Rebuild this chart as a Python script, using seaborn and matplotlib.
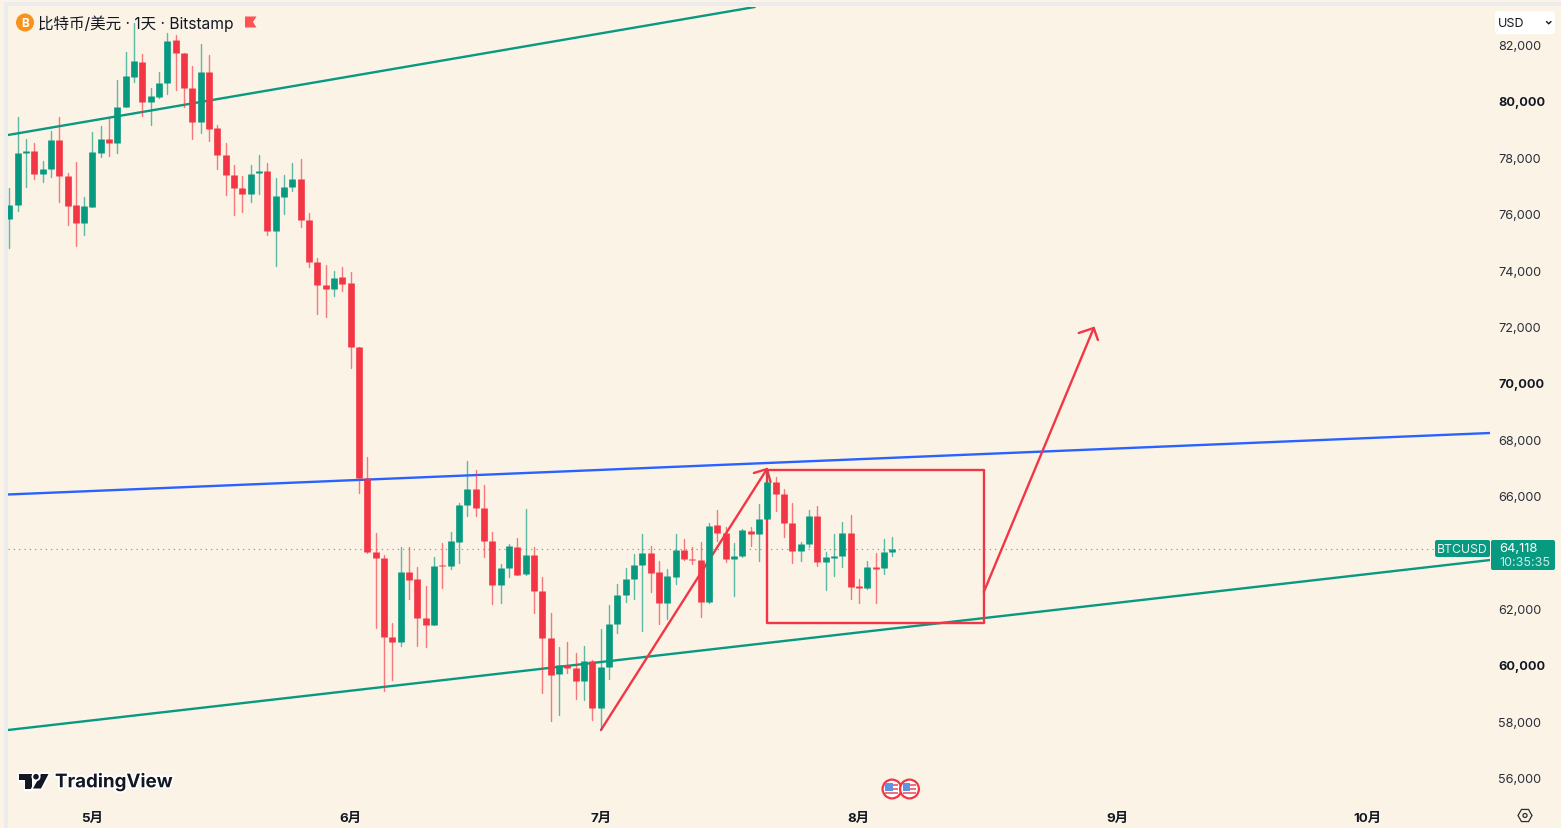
import numpy as np
import pandas as pd
import seaborn as sns
import matplotlib.pyplot as plt
import matplotlib.patheffects as pe
from matplotlib.patches import Circle, FancyBboxPatch, Polygon, Rectangle, RegularPolygon
from matplotlib.ticker import FuncFormatter

opens = [75809, 76294, 78162, 78233, 77405, 77583, 78623, 77334, 76294, 75679,
         76246, 78162, 78647, 78505, 79794, 80846, 81379, 79948, 80149, 80622,
         82159, 81698, 80444, 79238, 81024, 79025, 78068, 77370, 76897, 76708,
         77429, 77524, 75395, 76601, 76932, 77216, 75785, 74284, 73469, 73327,
         73741, 73528, 71270, 66634, 63985, 63773, 60994, 60805, 63276, 63028,
         61644, 61396, 63536, 63489, 64364, 65665, 66232, 65558, 64399, 62838,
         63441, 64186, 63205, 63903, 62614, 60946, 59669, 59977, 59894, 59421,
         60119, 58475, 59918, 61431, 62473, 63041, 63549, 63963, 63277, 62201,
         63123, 64081, 63750, 63703, 62213, 64968, 64684, 63738, 63845, 64755,
         64637, 65157, 66482, 66044, 65015, 64046, 64270, 65287, 63644, 63797,
         63857, 64673, 62781, 62710, 63466, 63419, 64010]
highs = [76897, 79439, 78635, 78493, 77867, 78919, 79439, 77429, 77831, 76578,
         78883, 79108, 79380, 80740, 81733, 82774, 81662, 80444, 81024, 82419,
         82325, 81710, 81248, 82005, 81615, 79132, 78517, 77713, 77334, 77725,
         78079, 77784, 77263, 77382, 77784, 77949, 76010, 74414, 74179, 73978,
         74119, 73942, 71270, 67379, 64659, 63879, 61467, 64163, 64163, 63453,
         62791, 63808, 64305, 64707, 65724, 67226, 66906, 66362, 64719, 63572,
         64281, 64482, 65523, 64163, 63099, 61821, 60615, 60805, 60402, 60663,
         60166, 61254, 62105, 62862, 63419, 63916, 64625, 64223, 63679, 63395,
         64625, 64448, 64188, 64341, 65039, 65477, 64897, 64306, 64803, 64874,
         65701, 66931, 66647, 66222, 65725, 64341, 65477, 65630, 63999, 64625,
         65063, 65311, 63053, 63679, 63975, 64448, 64519]
lows = [74768, 76105, 76932, 77240, 77122, 77311, 76412, 75608, 74863, 75253,
        76246, 77997, 78044, 78162, 79770, 80681, 79463, 79132, 80090, 80232,
        80385, 79770, 78659, 78848, 78564, 77583, 76649, 75963, 76045, 76412,
        76696, 75253, 74154, 75986, 76790, 75513, 74094, 72440, 72346, 73079,
        73256, 70536, 66078, 63950, 61289, 59078, 59456, 60674, 62330, 60674,
        60639, 61396, 62720, 63382, 63595, 65274, 65274, 63832, 62141, 62200,
        63099, 63170, 63193, 61821, 58983, 58014, 58215, 59717, 58782, 58747,
        58037, 57683, 59492, 61136, 62237, 62343, 61208, 62568, 61444, 61610,
        62852, 63715, 63561, 61704, 62201, 64401, 63656, 62438, 63833, 64211,
        63691, 65157, 65465, 64542, 63620, 63691, 64188, 63502, 62650, 63159,
        63478, 62331, 62177, 62698, 62177, 63218, 63868]
closes = [76306, 78162, 78233, 77405, 77595, 78611, 77323, 76270, 75679, 76270,
          78174, 78647, 78505, 79794, 80870, 81414, 79960, 80161, 80622, 82135,
          81698, 80444, 79238, 81024, 79014, 78068, 77370, 76897, 76696, 77417,
          77500, 75395, 76613, 76944, 77216, 75774, 74284, 73468, 73327, 73717,
          73516, 71258, 66611, 63985, 63773, 60982, 60816, 63276, 63004, 61644,
          61396, 63512, 63501, 64388, 65665, 66232, 65558, 64399, 62838, 63441,
          64210, 63193, 63903, 62614, 60946, 59646, 59977, 59882, 59421, 60119,
          58475, 59918, 61443, 62472, 63041, 63549, 63963, 63265, 62201, 63147,
          64069, 63738, 63703, 62225, 64933, 64673, 63738, 63857, 64767, 64637,
          65169, 66482, 66044, 65015, 64046, 64270, 65287, 63656, 63809, 63857,
          64673, 62769, 62721, 63455, 63407, 64010, 64118]

price_ticks = [56000, 58000, 60000, 62000, 66000, 68000, 70000, 72000, 74000, 76000, 78000, 80000, 82000]
bold_ticks = [60000, 70000, 80000]
month_days = [10, 41, 71, 102, 133, 163]
month_labels = ["5月", "6月", "7月", "8月", "9月", "10月"]

# drawings, (candle index, price)
upper_channel = ([-0.14, 89.5], [78790, 83330])
lower_channel = ([-0.14, 177.8], [57685, 63715])
blue_line = ([-0.14, 177.8], [66039, 68220])
rise_arrow = ([71.04, 90.97], [57685, 66943])
rise_head = ([89.4, 90.97, 91.4], [66801, 66943, 66482])
box_days = [90.97, 117.0, 117.0, 90.97, 90.97]
box_prices = [66890, 66890, 61498, 61498, 66890]
target_arrow = ([117.0, 130.2], [62581, 71944])
target_head = ([128.4, 130.2, 130.7], [71767, 71944, 71519])

GREEN = "#089981"
RED = "#F23645"
BLUE = "#2962FF"
BG = "#FBF3E6"
TEXT = "#131722"

sns.set_theme(style="white")
plt.rcParams["font.family"] = ["Inter", "Noto Sans CJK SC", "DejaVu Sans"]
plt.rcParams["axes.unicode_minus"] = False

W, H = 1561, 829
fig = plt.figure(figsize=(W / 100, H / 100), dpi=100, facecolor=BG)
ax = fig.add_axes([8 / W, (H - 804) / H, (1490 - 8) / W, (804 - 8) / H], facecolor=BG)

days = np.arange(len(opens))
df = pd.DataFrame({"day": days, "open": opens, "high": highs, "low": lows, "close": closes})
df["dir"] = np.where(df["close"] >= df["open"], "up", "down")
palette = {"up": GREEN, "down": RED}

wicks = df.melt(id_vars=["day", "dir"], value_vars=["low", "high"], value_name="price")
bodies = df.melt(id_vars=["day", "dir"], value_vars=["open", "close"], value_name="price")


def draw(line, color, lw=1.7):
    sns.lineplot(x=line[0], y=line[1], color=color, linewidth=lw, sort=False,
                 estimator=None, ax=ax, zorder=2)


ax.axhline(closes[-1], xmax=(1434 - 8) / (1490 - 8), color=GREEN, lw=0.8, ls=(0, (1, 3.8)), alpha=0.8, zorder=1)
draw(upper_channel, GREEN)
draw(lower_channel, GREEN)
draw(blue_line, BLUE)
draw(rise_arrow, RED)
draw(rise_head, RED)
draw((box_days, box_prices), RED)
draw(target_arrow, RED)
draw(target_head, RED)

sns.lineplot(data=wicks, x="day", y="price", hue="dir", units="day", estimator=None, sort=False,
             palette=palette, legend=False, linewidth=1.0, alpha=0.65, ax=ax, zorder=3)
sns.lineplot(data=bodies, x="day", y="price", hue="dir", units="day", estimator=None, sort=False,
             palette=palette, legend=False, linewidth=4.8, solid_capstyle="butt", ax=ax, zorder=4)

ax.set_xlim(-0.144, 177.77)
ax.set_ylim(55096, 83330)
ax.set_xlabel("")
ax.set_ylabel("")
sns.despine(ax=ax, left=True, bottom=True)

ax.yaxis.tick_right()
ax.set_yticks(price_ticks)
ax.yaxis.set_major_formatter(FuncFormatter(lambda v, _: f"{int(v):,}"))
ax.tick_params(axis="y", length=0, pad=5.8, labelsize=9.1, labelcolor="#2A2E39")
for lab, tick in zip(ax.get_yticklabels(), price_ticks):
    if tick in bold_ticks:
        lab.set_fontweight("bold")
        lab.set_color(TEXT)
ax.set_xticks(month_days)
ax.set_xticklabels(month_labels, fontweight="bold", fontsize=9.6, color=TEXT)
ax.tick_params(axis="x", length=0, pad=6.6)

# screen chrome drawn in pixel coordinates
ui = fig.add_axes([0, 0, 1, 1], facecolor="none")
ui.set_xlim(0, W)
ui.set_ylim(H, 0)
ui.axis("off")

ui.add_patch(Rectangle((4, 3), W - 4, 4, color="#ECECEC", lw=0))
ui.add_patch(Rectangle((4, 3), 4, H - 3, color="#ECECEC", lw=0))

# header
ui.add_patch(Circle((25, 23.5), 9, color="#F7931A", lw=0))
ui.text(25, 23.5, "B", color="white", fontsize=8.5, fontweight="bold", ha="center", va="center")
ui.text(38, 23.5, "比特币/美元 · 1天 · Bitstamp", color=TEXT, fontsize=11.2, va="center")
ui.add_patch(Polygon([(245, 17.5), (256.5, 17.5), (253, 23), (256.5, 28.5), (245, 28.5)], color="#FF5252", lw=0))

# currency button
ui.add_patch(FancyBboxPatch((1495, 12), 60, 23, boxstyle="round,pad=0,rounding_size=3", fc="white", ec="none"))
ui.text(1498, 24, "USD", color=TEXT, fontsize=9, va="center")
ui.plot([1546.5, 1548.7, 1551], [22.5, 24.8, 22.5], color=TEXT, lw=1)

# last price tags
ui.add_patch(FancyBboxPatch((1435, 541), 55, 17, boxstyle="round,pad=0,rounding_size=2", fc=GREEN, ec="none"))
ui.add_patch(FancyBboxPatch((1491, 541), 64, 30, boxstyle="round,pad=0,rounding_size=2", fc=GREEN, ec="none"))
ui.text(1462.5, 550, "BTCUSD", color="white", fontsize=8.8, ha="center", va="center", alpha=0.9)
ui.text(1499, 549.5, f"{closes[-1]:,}", color="white", fontsize=9.4, va="center")
ui.text(1499, 563.5, "10:35:35", color="white", fontsize=9, va="center", alpha=0.8)

# TradingView logo
halo = [pe.withStroke(linewidth=2.5, foreground="white")]
for poly in ([(19.5, 775), (32, 775), (32, 789.5), (25.5, 789.5), (25.5, 780.5), (19.5, 780.5)],
             [(41, 775), (48.5, 775), (41, 789.5), (33, 789.5)]):
    ui.add_patch(Polygon(poly, color="#131722", lw=0, path_effects=halo))
ui.add_patch(Circle((36, 777.7), 2.8, color="#131722", lw=0, path_effects=halo))
ui.text(55, 783.5, "TradingView", color="#131722", fontsize=13.5, fontweight="bold", va="center",
        path_effects=halo)

# economic event flags
for cx in (892, 909.5):
    ui.add_patch(Circle((cx, 790), 9.4, fc="white", ec=RED, lw=1.6, zorder=5))
    for dy in (-5, -1, 3):
        ui.add_patch(Rectangle((cx - 6.5, 790 + dy), 13, 2, color="#F0737B", lw=0, zorder=6))
    ui.add_patch(Rectangle((cx - 6.5, 783.5), 7.5, 8, color="#5B93E6", lw=0, zorder=7))

# settings icon
ui.add_patch(RegularPolygon((1525, 816.5), 6, radius=7, orientation=np.pi / 2, fc="none", ec="#2A2E39", lw=0.9))
ui.add_patch(Circle((1525, 816.5), 2, fc="none", ec="#2A2E39", lw=0.9))

fig.savefig("out.png", dpi=100, facecolor=BG)
